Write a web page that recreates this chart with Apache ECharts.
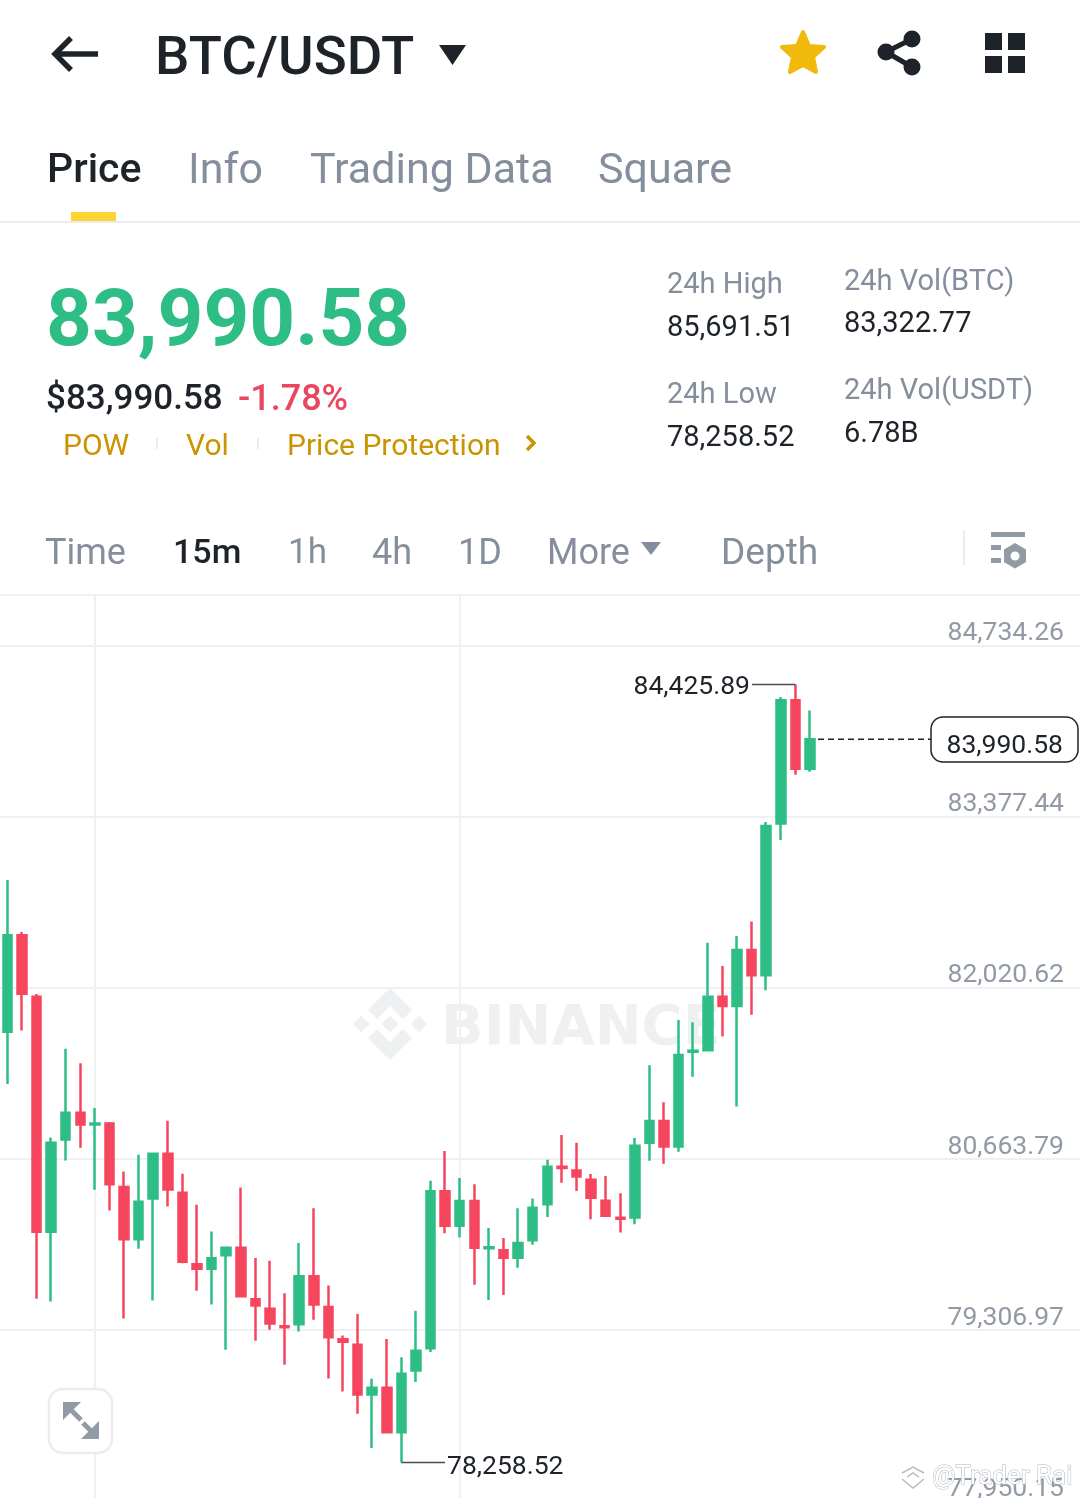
<!DOCTYPE html>
<html>
<head>
<meta charset="utf-8">
<title>BTC/USDT</title>
<style>
  html, body { margin: 0; padding: 0; background: #fff; overflow: hidden; }
  #chart { width: 1080px; height: 1498px; }
</style>
<script src="https://cdn.jsdelivr.net/npm/echarts@6/dist/echarts.min.js"></script>
</head>
<body>
<div id="chart"></div>
<script>
// candle values, oldest first
const opens = [81672, 82438, 81949, 80086, 80818, 81030, 80937, 80946, 80441, 80027, 80350, 80704.5, 80395.5, 79829,
  79793, 79900, 79960, 79551.5, 79476, 79337.5, 79353, 79734, 79490, 79234.5, 79191, 78797, 78850, 78497,
  78987, 79163, 80407, 80134, 80330, 79956, 79940, 79880, 80019, 80304, 80601.5, 80572, 80500, 80332,
  80197, 80200, 80792.5, 80964, 80762, 81513, 81526, 81949, 81877, 82321, 82120, 83324, 84300.5, 83757];
const closes = [82438, 81974, 80086, 80792, 81029.5, 80938, 80945, 80463, 80027, 80324, 80704.5, 80421, 79849, 79793,
  79876, 79960, 79575, 79502, 79359, 79329.5, 79734, 79510, 79250, 79215, 78797, 78850, 78497, 78961,
  79143, 80407, 80134, 80330, 79960, 79964, 79880, 79997, 80277, 80601.5, 80592, 80524, 80356, 80213,
  80189, 80769.5, 80964, 80762, 81487.5, 81521, 81949, 81877, 82321, 82120, 83304, 84300.5, 83757, 83990.58];
const lows = [81259, 81682, 79555, 79534, 80651.5, 80752, 80419, 80255.5, 79399, 79952, 79542, 80287, 79838, 79619,
  79510, 79151, 79566, 79223, 79310, 79032, 79296, 79389, 78924, 78821, 78644, 78372, 78488, 78258.52,
  78895, 79133, 80076, 80041, 79666, 79545, 79585, 79801, 79983, 80203, 80475, 80410, 80185.5, 80204,
  80080, 80147, 80649, 80625, 80722, 81316, 81516, 81634, 81079, 81807, 82001, 83193, 83710.5, 83734];
const highs = [82876, 82464, 81972.5, 80834, 81537, 81423, 81067, 80956, 80564, 80697, 80715, 80966, 80546, 80300,
  80089, 79970, 80437.5, 79878, 79857, 79599, 79997, 80274, 79661, 79265, 79434, 78921, 79236, 79093,
  79460, 80491, 80728, 80514, 80464, 80116, 80036.5, 80274, 80350, 80657, 80853, 80792, 80544, 80528,
  80391.5, 80831, 81407, 81113.5, 81765, 81747, 82377, 82194, 82432, 82546, 83336, 84326, 84425.89, 84219];

const priceTicks = [84734.26, 83377.44, 82020.62, 80663.79, 79306.97, 77950.15];
const lastPrice = 83990.58;
const highPrice = 84425.89;
const lowPrice = 78258.52;
const highCandle = 54;
const lowCandle = 27;
const timeGridCandles = [6, 31];

const SLOTS = 74; // chart leaves empty room right of the last candle
const candles = opens.map((o, i) => [o, closes[i], lows[i], highs[i]]);

const DARK = '#1E2329';
const GREY = '#848E9C';
const ICON_GREY = '#929AA5';
const GOLD = '#C99400';
const GREEN = '#2EBD85';
const RED = '#F6465D';
const LINE = '#EEF0F2';
const FONT = 'Roboto';

function text(str, x, y, size, color, weight, align) {
  return {
    type: 'text', z: 10,
    style: {
      text: str, x: x, y: y + size * 0.1, fill: color, // glyphs sit high in the line box
      font: (weight || 400) + ' ' + size + 'px ' + FONT,
      textAlign: align || 'left', textVerticalAlign: 'middle'
    }
  };
}
function rect(x, y, w, h, color, r) {
  return { type: 'rect', z: 10, shape: { x: x, y: y, width: w, height: h, r: r || 0 }, style: { fill: color } };
}
function line(x1, y1, x2, y2, color, width, dash) {
  return {
    type: 'line', z: 10, shape: { x1: x1, y1: y1, x2: x2, y2: y2 },
    style: { stroke: color, lineWidth: width, lineDash: dash || null }
  };
}
function poly(points, color, z) {
  return { type: 'polygon', z: z || 10, shape: { points: points }, style: { fill: color } };
}
function stroked(points, color, width) {
  return {
    type: 'polyline', z: 10, shape: { points: points },
    style: { stroke: color, lineWidth: width, fill: null, lineJoin: 'miter' }
  };
}
function dot(x, y, r, color) {
  return { type: 'circle', z: 10, shape: { cx: x, cy: y, r: r }, style: { fill: color } };
}

function headerGraphics() {
  return [
    // top bar
    stroked([[71, 38], [55, 54], [71, 70]], DARK, 5.5),
    line(56, 54, 98, 54, DARK, 5.5),
    text('BTC/USDT', 155, 55, 54.5, DARK, 500),
    poly([[439, 45], [466, 45], [452.5, 65]], DARK),
    {
      type: 'polygon', z: 10,
      shape: { points: [[803, 32], [809, 46], [824, 47], [813, 57], [816, 72], [803, 65], [790, 72], [793, 57], [782, 47], [797, 46]] },
      style: { fill: '#F0B90B', stroke: '#F0B90B', lineWidth: 4, lineJoin: 'round' }
    },
    line(886, 52, 912, 39, DARK, 5), line(886, 52, 912, 67, DARK, 5),
    dot(912, 39, 8.5, DARK), dot(886, 52, 8.5, DARK), dot(912, 67, 8.5, DARK),
    rect(985, 33, 17, 17, DARK), rect(1008, 33, 17, 17, DARK),
    rect(985, 56, 17, 17, DARK), rect(1008, 56, 17, 17, DARK),

    // tabs
    text('Price', 47, 168, 41, DARK, 500),
    text('Info', 188, 168, 43, GREY),
    text('Trading Data', 310, 168, 43, GREY),
    text('Square', 598, 168, 43, GREY),
    rect(71, 212, 45, 9, '#FCD535'),
    line(0, 222, 1080, 222, '#EAECEF', 2),

    // price block
    text('83,990.58', 46, 317, 80, GREEN, 700),
    text('$83,990.58', 46, 397, 35, DARK, 500),
    text('-1.78%', 238, 397, 36, '#E8475F', 500),
    text('POW', 63, 444, 30, GOLD),
    text('Vol', 186, 444, 30, GOLD),
    text('Price Protection', 287, 444, 30, GOLD),
    line(157, 438, 157, 449, '#EAECEF', 2), line(258, 438, 258, 449, '#EAECEF', 2),
    stroked([[527, 436], [534, 443], [527, 450]], GOLD, 3.5),

    text('24h High', 667, 283, 29, GREY),
    text('85,691.51', 667, 326, 29, DARK),
    text('24h Low', 667, 393, 29, GREY),
    text('78,258.52', 667, 436, 29, DARK),
    text('24h Vol(BTC)', 844, 280, 29, GREY),
    text('83,322.77', 844, 322, 29, DARK),
    text('24h Vol(USDT)', 844, 389, 29, GREY),
    text('6.78B', 844, 432, 29, DARK),

    // interval bar
    text('Time', 45, 551, 36, GREY),
    text('15m', 173, 551, 34, DARK, 500),
    text('1h', 288, 551, 35, GREY),
    text('4h', 372, 551, 36, GREY),
    text('1D', 458, 551, 36, GREY),
    text('More', 547, 551, 36, GREY),
    poly([[641, 542], [661, 542], [651, 555]], GREY),
    text('Depth', 721, 551, 37, GREY),
    line(964, 530, 964, 565, '#EAECEF', 2),
    rect(991, 532, 34, 5, ICON_GREY), rect(991, 545, 10, 5, ICON_GREY), rect(991, 558, 10, 5, ICON_GREY),
    poly([[1015, 543], [1026, 549.5], [1026, 562], [1015, 568.5], [1004, 562], [1004, 549.5]], ICON_GREY),
    dot(1015, 556, 4.5, '#fff'),
    line(0, 595, 1080, 595, LINE, 2)
  ];
}

function chartGraphics(chart) {
  const toPx = (i, price) => chart.convertToPixel({ xAxisIndex: 0, yAxisIndex: 0 }, [i, price]);
  const hi = toPx(highCandle, highPrice);
  const lo = toPx(lowCandle, lowPrice);
  const last = toPx(candles.length - 1, lastPrice);
  const wm = '#EEF0F1';
  const button = {
    type: 'rect', z: 10,
    shape: { x: 49, y: 1389, width: 63, height: 64, r: 14 },
    style: { fill: '#fff', stroke: '#EAECEF', lineWidth: 2.5 }
  };
  return [
    // watermark behind the candles
    poly([[390, 988], [412, 1010], [403, 1019], [390, 1006], [377, 1019], [368, 1010]], wm, 1),
    poly([[390, 1060], [412, 1038], [403, 1029], [390, 1042], [377, 1029], [368, 1038]], wm, 1),
    poly([[361, 1015.5], [369.5, 1024], [361, 1032.5], [352.5, 1024]], wm, 1),
    poly([[390, 1015.5], [398.5, 1024], [390, 1032.5], [381.5, 1024]], wm, 1),
    poly([[419, 1015.5], [427.5, 1024], [419, 1032.5], [410.5, 1024]], wm, 1),
    {
      type: 'text', z: 1,
      style: { text: 'BINANCE', x: 441, y: 1029, fill: wm, font: '700 56px "DejaVu Sans"', textVerticalAlign: 'middle' }
    },

    // high / low callouts
    line(752, hi[1], hi[0], hi[1], '#474D57', 1.5),
    text('84,425.89', 750, hi[1], 26.5, DARK, 400, 'right'),
    line(lo[0], lo[1], 445, lo[1], '#474D57', 1.5),
    text('78,258.52', 447, lo[1] + 2, 26.5, DARK),

    // last price tag
    line(818, last[1], 931, last[1], DARK, 1.5, [6, 4]),
    {
      type: 'rect', z: 10,
      shape: { x: 931, y: 717, width: 147, height: 45, r: 12 },
      style: { fill: '#fff', stroke: DARK, lineWidth: 1.5 }
    },
    text('83,990.58', 1063, 744, 26.5, DARK, 400, 'right'),

    // expand button
    button,
    poly([[63, 1402], [81, 1402], [63, 1420]], ICON_GREY),
    line(70, 1409, 81, 1420, ICON_GREY, 5),
    poly([[99, 1439], [81, 1439], [99, 1421]], ICON_GREY),
    line(92, 1432, 83, 1423, ICON_GREY, 5),

    // credit stamp over the corner label
    stroked([[902, 1473], [913, 1467], [924, 1473]], '#B7BDC6', 1.5),
    stroked([[907, 1477], [913, 1473], [919, 1477]], '#B7BDC6', 1.5),
    stroked([[902, 1479], [913, 1488], [924, 1479]], '#B7BDC6', 1.5),
    {
      type: 'text', z: 11,
      style: {
        text: '@Trader Rai', x: 932, y: 1477, fill: '#fff', stroke: '#AEB4BC', lineWidth: 1,
        font: '400 26px ' + FONT, textVerticalAlign: 'middle'
      }
    }
  ];
}

const chart = echarts.init(document.getElementById('chart'));

chart.setOption({
  animation: false,
  backgroundColor: '#fff',
  // the lowest grid line falls just below the page
  grid: { left: 0, top: 595, width: 1080, height: 906.3, outerBoundsMode: 'none' },
  xAxis: {
    type: 'category',
    data: Array.from({ length: SLOTS }, (_, i) => String(i)),
    boundaryGap: true,
    axisLine: { show: false },
    axisTick: { show: false, alignWithLabel: true },
    axisLabel: { show: false },
    splitLine: {
      show: true,
      alignWithLabel: true,
      interval: (i) => timeGridCandles.includes(i),
      lineStyle: { color: LINE, width: 2 }
    }
  },
  yAxis: {
    type: 'value',
    position: 'right',
    min: 77950.15,
    max: 85134.6,
    axisLine: { show: false },
    axisTick: { show: false, customValues: priceTicks },
    axisLabel: {
      inside: true,
      customValues: priceTicks,
      margin: 16,
      color: ICON_GREY,
      fontFamily: FONT,
      fontSize: 26.5,
      lineHeight: 24,
      verticalAlign: 'bottom',
      formatter: (v) => v.toLocaleString('en-US', { minimumFractionDigits: 2, maximumFractionDigits: 2 })
    },
    splitLine: { show: true, lineStyle: { color: LINE, width: 2 } }
  },
  series: [{
    type: 'candlestick',
    data: candles,
    barWidth: 9,
    itemStyle: { color: GREEN, color0: RED, borderColor: GREEN, borderColor0: RED, borderWidth: 2.5 }
  }],
  graphic: headerGraphics()
});

chart.setOption({ graphic: headerGraphics().concat(chartGraphics(chart)) }, { replaceMerge: ['graphic'] });
</script>
</body>
</html>
